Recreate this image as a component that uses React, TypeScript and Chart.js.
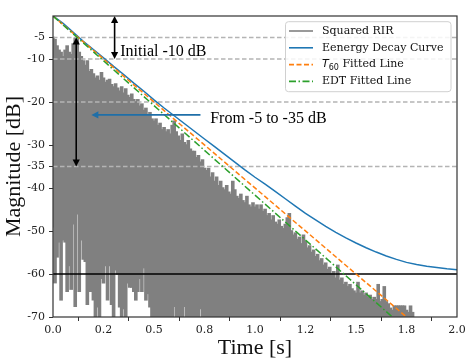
import { useEffect, useRef } from 'react';
import { Chart, registerables } from 'chart.js';

Chart.register(...registerables);

// ---------- data ----------
const rirStep = 0.01; // seconds between RIR envelope samples
// upper envelope of the squared RIR (dB), one value per 10 ms from t = 0
const rirTop = [
  -5, -5.5, -7, -8, -8.5, -9.5, -8, -7, -8.5, -9,
  -6.5, -5.2, -5.5, -8.5, -9.5, -10.5, -11.5, -10.5, -13, -12.5,
  -13.5, -14.5, -14, -15, -13.2, -14.5, -15.5, -15, -14.8, -16,
  -16.5, -15.8, -16.8, -17.5, -16.5, -18, -17, -18.5, -19, -18.2,
  -19.5, -20, -19.5, -21, -20.5, -22, -21.5, -23, -22.5, -24,
  -24.5, -24, -25.5, -25, -26.5, -26, -27, -26.5, -27.5, -25.5,
  -24.5, -27, -28, -29, -27.5, -29.5, -30, -29, -31, -31.5,
  -31.5, -33, -32.5, -34, -33.5, -35.5, -36, -35.5, -37.5, -36.5,
  -38.5, -37.5, -39.5, -38.5, -40, -40.5, -39.5, -41, -41.5, -38.5,
  -40.5, -42, -42.5, -41.5, -43, -43.5, -42, -44, -44.5, -43.5,
  -44.5, -44, -45, -44, -45.5, -45, -46.5, -46, -47.5, -46.5,
  -48, -48.5, -47.5, -49, -49.5, -48.5, -47, -46, -50, -51,
  -50.5, -52, -51.5, -53, -51, -52.5, -54, -53.5, -55, -54.5,
  -56, -55.5, -57, -56.5, -58, -57.5, -59, -58.5, -60, -59.5,
  -61, -58, -61.5, -61, -62.5, -62, -63, -62.5, -63.5, -64,
  -64.5, -62, -64.5, -64, -65, -64.5, -65.5, -65, -66, -65.5,
  -66, -62.5, -66.5, -66, -63, -66.5, -67, -68, -68.5, -67.5,
  -67.5, -67.5, -67.5, -67.5, -67.5, -68.5, -69, -67.5, -69,
];
// lower envelope of the squared RIR (dB), same sampling
const rirBottom = [
  -49, -62, -56, -52.5, -66, -52, -52.5, -64, -58, -63.5,
  -48.3, -67.5, -46, -64, -52, -56.5, -57, -67, -64, -64,
  -66, -70, -67.6, -70, -61, -62, -58, -66, -58, -67,
  -70, -59, -60, -67.6, -70, -68, -70, -62, -63, -63,
  -64, -66, -64, -61, -64, -58.5, -66, -64.5, -67.6, -70,
  -70, -70, -70, -70, -70, -70, -70, -70, -70, -70,
  -67.5, -70, -70, -70, -70, -67.5, -70, -70, -70, -70,
  -70, -70, -70, -68, -70, -70, -70, -70, -70, -70,
  -70, -70, -70, -70, -70, -70, -70, -70, -70, -70,
  -70, -70, -70, -70, -70, -70, -70, -70, -70, -70,
  -70, -70, -70, -70, -70, -70, -70, -70, -70, -70,
  -70, -70, -70, -70, -70, -70, -70, -70, -70, -70,
  -70, -70, -70, -70, -70, -70, -70, -70, -70, -70,
  -70, -70, -70, -70, -70, -70, -70, -70, -70, -70,
  -70, -70, -70, -70, -70, -70, -70, -70, -70, -70,
  -70, -70, -70, -70, -70, -70, -70, -70, -70, -70,
  -70, -70, -70, -70, -70, -70, -70, -70, -70, -70,
  -70, -70, -70, -70, -70, -70, -70, -70, -70,
];

const edcStep = 0.05;
const edcValues = [
  0, -1.7, -3.8, -5.9, -7.8, -9.7, -11.7, -13.6, -15.6, -17.5,
  -19.5, -21.4, -23.2, -25.0, -26.8, -28.6, -30.4, -32.2, -34.0, -35.8,
  -37.5, -39.1, -40.8, -42.5, -44.2, -45.9, -47.4, -48.9, -50.3, -51.6,
  -52.8, -53.9, -54.9, -55.8, -56.6, -57.3, -57.8, -58.2, -58.5, -58.8,
  -59.0,
];

// fitted lines: [start time, start dB, end time, end dB]
const t60Line = [0, 0, 1.75, -70];
const edtLine = [0, 0, 1.68, -70];

const refLevels = [-5, -10, -20, -35];
const floorLevel = -60;

const xTickValues = [0, 0.25, 0.5, 0.75, 1, 1.25, 1.5, 1.75, 2];
const xTickLabels = ['0.0', '0.2', '0.5', '0.8', '1.0', '1.2', '1.5', '1.8', '2.0'];
const yTickValues = [-5, -10, -20, -30, -35, -40, -50, -60, -70];
const yTickLabels = ['-5', '-10', '-20', '-30', '-35', '-40', '-50', '-60', '-70'];

const seriesLabels = ['Squared RIR', 'Eenergy Decay Curve', 'T_{60} Fitted Line', 'EDT Fitted Line'];

// annotations (data coordinates)
const vArrows = [
  { t: 0.305, from: 0, to: -10 },
  { t: 0.115, from: -5, to: -35 },
];
const hArrow = { y: -23, from: 0.73, to: 0.19 };
const notes = [
  { text: 'Initial -10 dB', t: 0.333, y: -9.3 },
  { text: 'From -5 to -35 dB', t: 0.778, y: -24.8 },
];

// ---------- helpers ----------
function drawArrow(ctx: CanvasRenderingContext2D, x1: number, y1: number, x2: number, y2: number, color: string, both: boolean) {
  const L = 7, W = 3.6;
  const dx = x2 - x1, dy = y2 - y1;
  const len = Math.hypot(dx, dy);
  const ux = dx / len, uy = dy / len;
  ctx.save();
  ctx.strokeStyle = color;
  ctx.fillStyle = color;
  ctx.lineWidth = 1.6;
  ctx.beginPath();
  ctx.moveTo(x1 + (both ? ux * L * 0.8 : 0), y1 + (both ? uy * L * 0.8 : 0));
  ctx.lineTo(x2 - ux * L * 0.8, y2 - uy * L * 0.8);
  ctx.stroke();
  const head = (tx: number, ty: number, vx: number, vy: number) => {
    ctx.beginPath();
    ctx.moveTo(tx, ty);
    ctx.lineTo(tx - vx * L - vy * W, ty - vy * L + vx * W);
    ctx.lineTo(tx - vx * L + vy * W, ty - vy * L - vx * W);
    ctx.closePath();
    ctx.fill();
  };
  head(x2, y2, ux, uy);
  if (both) head(x1, y1, -ux, -uy);
  ctx.restore();
}

const annotationPlugin = {
  id: 'annotations',
  afterDatasetsDraw(chart: any) {
    const { ctx } = chart;
    const xs = chart.scales.x, ys = chart.scales.y;
    for (const a of vArrows) {
      const px = xs.getPixelForValue(a.t);
      drawArrow(ctx, px, ys.getPixelForValue(a.from), px, ys.getPixelForValue(a.to), '#000', true);
    }
    const py = ys.getPixelForValue(hArrow.y);
    drawArrow(ctx, xs.getPixelForValue(hArrow.from), py, xs.getPixelForValue(hArrow.to), py, '#1f6fa8', false);
    ctx.save();
    ctx.fillStyle = '#000';
    ctx.font = '16px "Liberation Serif"';
    ctx.textBaseline = 'alphabetic';
    ctx.textAlign = 'left';
    for (const n of notes) ctx.fillText(n.text, xs.getPixelForValue(n.t), ys.getPixelForValue(n.y));
    ctx.restore();
  },
};

const framePlugin = {
  id: 'frame',
  afterDraw(chart: any) {
    const { ctx, chartArea: a } = chart;
    ctx.save();
    ctx.strokeStyle = '#333';
    ctx.lineWidth = 1.2;
    ctx.strokeRect(a.left, a.top, a.right - a.left, a.bottom - a.top);
    ctx.restore();
  },
};

const legendPlugin = {
  id: 'boxLegend',
  afterDraw(chart: any) {
    const { ctx, chartArea: a } = chart;
    const items = chart.data.datasets.filter((d: any) => d.inLegend);
    const w = 165.5, h = 70;
    const x0 = a.right - 6 - w, y0 = a.top + 5.7;
    ctx.save();
    ctx.beginPath();
    ctx.roundRect(x0, y0, w, h, 3);
    ctx.fillStyle = 'rgba(255,255,255,0.85)';
    ctx.fill();
    ctx.strokeStyle = '#d0d0d0';
    ctx.lineWidth = 1;
    ctx.stroke();
    items.forEach((d: any, i: number) => {
      const cy = y0 + 9.3 + i * 16.8;
      ctx.beginPath();
      ctx.strokeStyle = d.legendColor;
      ctx.lineWidth = 1.6;
      ctx.setLineDash(d.borderDash || []);
      ctx.moveTo(x0 + 3.5, cy);
      ctx.lineTo(x0 + 27.5, cy);
      ctx.stroke();
      ctx.setLineDash([]);
      ctx.fillStyle = '#111';
      ctx.textBaseline = 'middle';
      let tx = x0 + 36.5;
      const m = /^(.*?)([A-Za-z])_\{(\w+)\}(.*)$/.exec(d.label);
      if (m) {
        ctx.font = '11px "DejaVu Serif"';
        ctx.fillText(m[1], tx, cy); tx += ctx.measureText(m[1]).width;
        ctx.font = 'italic 11px "DejaVu Sans"';
        ctx.fillText(m[2], tx, cy); tx += ctx.measureText(m[2]).width;
        ctx.font = '8px "DejaVu Sans"';
        ctx.fillText(m[3], tx, cy + 3); tx += ctx.measureText(m[3]).width;
        ctx.font = '11px "DejaVu Serif"';
        ctx.fillText(m[4], tx, cy);
      } else {
        ctx.font = '11px "DejaVu Serif"';
        ctx.fillText(d.label, tx, cy);
      }
    });
    ctx.restore();
  },
};

export default function App() {
  const ref = useRef<HTMLCanvasElement>(null);
  useEffect(() => {
    document.body.style.margin = '0';
    const rirData = rirTop.map((top, i) => ({ x: i * rirStep, y: [rirBottom[i], top] }));
    const edcData = edcValues.map((v, i) => ({ x: i * edcStep, y: v }));
    const lineStyle = { pointRadius: 0, tension: 0, fill: false };
    const refSets = refLevels.map((lv) => ({
      type: 'line', label: 'ref', data: [{ x: 0, y: lv }, { x: 2, y: lv }],
      borderColor: '#b4b4b4', borderWidth: 1.4, borderDash: [4.5, 2.5], order: 9, ...lineStyle,
    }));
    const chart = new Chart(ref.current as HTMLCanvasElement, {
      type: 'line',
      data: {
        datasets: [
          {
            type: 'bar', label: seriesLabels[0], data: rirData, inLegend: true, legendColor: 'rgb(128,128,128)',
            backgroundColor: 'rgb(128,128,128)', borderWidth: 0, barPercentage: 1, categoryPercentage: 1,
            grouped: false, order: 10, clip: 0, inflateAmount: 0.8,
          },
          ...refSets,
          {
            type: 'line', label: 'floor', data: [{ x: 0, y: floorLevel }, { x: 2, y: floorLevel }],
            borderColor: '#000', borderWidth: 1.6, order: 8, ...lineStyle,
          },
          {
            type: 'line', label: seriesLabels[1], data: edcData, inLegend: true, legendColor: '#1f77b4',
            borderColor: '#1f77b4', borderWidth: 1.5, order: 3, ...lineStyle,
          },
          {
            type: 'line', label: seriesLabels[2], inLegend: true, legendColor: '#ff7f0e',
            data: [{ x: t60Line[0], y: t60Line[1] }, { x: t60Line[2], y: t60Line[3] }],
            borderColor: '#ff7f0e', borderWidth: 1.5, borderDash: [5, 2.5], order: 2, ...lineStyle,
          },
          {
            type: 'line', label: seriesLabels[3], inLegend: true, legendColor: '#2ca02c',
            data: [{ x: edtLine[0], y: edtLine[1] }, { x: edtLine[2], y: edtLine[3] }],
            borderColor: '#2ca02c', borderWidth: 1.5, borderDash: [7, 2.5, 1.5, 2.5], order: 1, ...lineStyle,
          },
        ] as any,
      },
      options: {
        responsive: false,
        animation: false,
        layout: { padding: { left: 0, top: 16, right: 17, bottom: 0 } },
        plugins: { legend: { display: false }, tooltip: { enabled: false } },
        scales: {
          x: {
            type: 'linear', min: 0, max: 2, offset: false,
            afterBuildTicks: (s: any) => { s.ticks = xTickValues.map((v) => ({ value: v })); },
            afterFit: (s: any) => { s.height = 44; },
            ticks: {
              callback: (_v: any, i: number) => xTickLabels[i],
              font: { family: 'DejaVu Serif', size: 11 }, color: '#222', padding: 3,
              maxRotation: 0, autoSkip: false,
            },
            grid: { display: true, drawOnChartArea: false, drawTicks: true, tickLength: 4, color: '#333' },
            border: { display: false },
            title: {
              display: true, text: 'Time [s]', color: '#111',
              font: { family: 'Liberation Serif', size: 22 }, padding: { top: 0, bottom: 0 },
            },
          },
          y: {
            type: 'linear', min: -70, max: 0,
            afterBuildTicks: (s: any) => { s.ticks = yTickValues.map((v) => ({ value: v })); },
            afterFit: (s: any) => { s.width = 53; },
            ticks: {
              callback: (_v: any, i: number) => yTickLabels[i],
              font: { family: 'DejaVu Serif', size: 11 }, color: '#222', padding: 4, autoSkip: false,
            },
            grid: { display: true, drawOnChartArea: false, drawTicks: true, tickLength: 4, color: '#333' },
            border: { display: false },
            title: {
              display: true, text: 'Magnitude [dB]', color: '#111',
              font: { family: 'Liberation Serif', size: 22 }, padding: { top: 1, bottom: 0 },
            },
          },
        },
      } as any,
      plugins: [annotationPlugin, framePlugin, legendPlugin],
    });
    return () => chart.destroy();
  }, []);
  return (
    <div style={{ width: 474, height: 361 }}>
      <canvas ref={ref} width={474} height={361} style={{ display: 'block' }} />
    </div>
  );
}
